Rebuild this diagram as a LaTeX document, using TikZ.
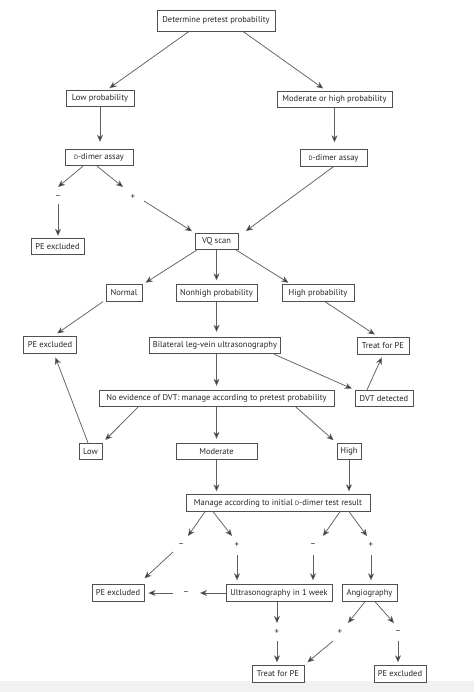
\documentclass[tikz,border=0pt]{standalone}
\usepackage{fontspec}
\setmainfont{PT Sans}
\usetikzlibrary{arrows.meta}
\definecolor{txt}{HTML}{262626}
\definecolor{edge}{HTML}{505050}
\definecolor{ln}{HTML}{606060}
\definecolor{strip}{HTML}{F1F1F1}
\newcommand{\dsc}{{\fontsize{6.2pt}{6pt}\selectfont D}}
\tikzset{
  box/.style={draw=edge, line width=0.85pt, fill=white, text=txt, inner sep=0pt,
    minimum height=16.5pt, font=\fontsize{8.5pt}{9pt}\selectfont},
  sign/.style={text=txt, inner sep=0pt, font=\fontsize{9pt}{9pt}\selectfont},
  arr/.style={draw=ln, line width=0.75pt, -{Stealth[length=7pt,width=6pt,inset=2pt,fill=txt]}},
}
\begin{document}
\begin{tikzpicture}[x=1pt,y=-1pt]
\useasboundingbox (0,0) rectangle (474,692);
\fill[strip] (0,681) rectangle (474,692);
% boxes
\node[box, minimum width=118pt, minimum height=21pt] (top) at (216,20.5) {Determine pretest probability};
\node[box, minimum width=68pt] (low) at (100,98.5) {Low probability};
\node[box, minimum width=115pt] (mod) at (334.5,99.5) {Moderate or high probability};
\node[box, minimum width=68pt] (dd1) at (99,157.5) {\dsc-dimer assay};
\node[box, minimum width=67pt] (dd2) at (333.5,158) {\dsc-dimer assay};
\node[box, minimum width=53pt] (pe1) at (57.5,246.5) {PE excluded};
\node[box, minimum width=43pt] (vq) at (216.5,241.5) {VQ scan};
\node[box, minimum width=36pt] (normal) at (124,293) {Normal};
\node[box, minimum width=81pt] (nonhigh) at (216.5,293) {Nonhigh probability};
\node[box, minimum width=72pt] (highp) at (318,293) {High probability};
\node[box, minimum width=53pt] (pe2) at (50,345) {PE excluded};
\node[box, minimum width=131pt] (bil) at (215,345.5) {Bilateral leg-vein ultrasonography};
\node[box, minimum width=52pt] (treat1) at (383,346) {Treat for PE};
\node[box, minimum width=58pt] (dvt) at (384,398.5) {DVT detected};
\node[box, minimum width=235pt] (noev) at (216.5,398.5) {No evidence of DVT: manage according to pretest probability};
\node[box, minimum width=23pt] (lowb) at (90.5,451.5) {Low};
\node[box, minimum width=81pt] (moder) at (216.5,451.5) {Moderate};
\node[box, minimum width=24pt] (high) at (349,451.5) {High};
\node[box, minimum width=184pt] (manage) at (278,503) {Manage according to initial \dsc-dimer test result};
\node[box, minimum width=52pt] (pe3) at (118,593) {PE excluded};
\node[box, minimum width=106pt] (ultra) at (279,593) {Ultrasonography in 1 week};
\node[box, minimum width=55pt] (angio) at (369.5,593) {Angiography};
\node[box, minimum width=52pt] (treat2) at (278,674) {Treat for PE};
\node[box, minimum width=52pt] (pe4) at (400,674) {PE excluded};
% signs
\node[sign] (m1) at (58,197) {\textendash};
\node[sign] (p1) at (133,197) {+};
\node[sign] (m2) at (181,545) {\textendash};
\node[sign] (p2) at (237,545) {+};
\node[sign] (m3) at (313,545) {\textendash};
\node[sign] (p3) at (371,545) {+};
\node[sign] (m4) at (186,593) {\textendash};
\node[sign] (p4) at (277,632) {+};
\node[sign] (p5) at (340,632) {+};
\node[sign] (m5) at (398,632) {\textendash};
% connectors
\draw[arr, shorten >=3pt] ([xshift=-27pt]top.south) -- ([xshift=7pt]low.north);
\draw[arr, shorten >=4pt] ([xshift=27pt]top.south) -- ([xshift=-8pt]mod.north);
\draw[arr, shorten >=7pt] (low.south) -- (low.south |- dd1.north);
\draw[arr, shorten >=7pt] (mod.south) -- (mod.south |- dd2.north);
\draw[arr] ([xshift=-16pt]dd1.south) -- ([yshift=10pt]m1.center);
\draw[arr] ([xshift=-2pt]dd1.south) -- ([xshift=-10pt,yshift=10pt]p1.center);
\draw[arr, shorten >=2pt] ([yshift=-7pt]m1.center) -- (m1.center |- pe1.north);
\draw[arr, shorten >=3pt] ([xshift=11pt,yshift=-4pt]p1.center) -- (vq.north west);
\draw[arr, shorten >=3pt] (dd2.south) -- ([xshift=5pt]vq.north east);
\draw[arr, shorten >=3pt] ([xshift=2pt]vq.south west) -- ([xshift=19pt]normal.north);
\draw[arr, shorten >=4pt] (vq.south) -- (vq.south |- nonhigh.north);
\draw[arr, shorten >=3pt] ([xshift=-2pt]vq.south east) -- ([xshift=-27pt]highp.north);
\draw[arr, shorten >=5pt] ([xshift=-21pt]normal.south) -- ([xshift=3pt]pe2.north);
\draw[arr, shorten >=5pt] (nonhigh.south) -- (nonhigh.south |- bil.north);
\draw[arr, shorten >=5pt] ([xshift=7pt]highp.south) -- ([xshift=-4pt]treat1.north);
\draw[arr, shorten >=4pt] (nonhigh.south |- bil.south) -- (nonhigh.south |- noev.north);
\draw[arr, shorten >=3pt] ([xshift=-7pt]bil.south east) -- (dvt.north west);
\draw[arr, shorten >=3pt] ([xshift=-17pt]dvt.north) -- (treat1.south);
\draw[arr, shorten >=4pt] ([xshift=-78.5pt]noev.south) -- (lowb.north east);
\draw[arr, shorten >=4pt] (noev.south) -- (noev.south |- moder.north);
\draw[arr, shorten >=4pt] ([xshift=79.5pt]noev.south) -- (high.north west);
\draw[arr, shorten >=4pt] ([xshift=-2.5pt]lowb.north) -- ([xshift=4pt]pe2.south);
\draw[arr, shorten >=3pt] (moder.south) -- (moder.south |- manage.north);
\draw[arr, shorten >=3pt] (high.south) -- (high.south |- manage.north);
\draw[arr] ([xshift=-73pt]manage.south) -- ([xshift=7pt,yshift=9pt]m2.center);
\draw[arr] ([xshift=-65pt]manage.south) -- ([xshift=-5pt,yshift=9pt]p2.center);
\draw[arr] ([xshift=62pt]manage.south) -- ([xshift=10pt,yshift=9pt]m3.center);
\draw[arr] ([xshift=71pt]manage.south) -- ([xshift=-4pt,yshift=9pt]p3.center);
\draw[arr] ([xshift=-8pt,yshift=-7pt]m2.center) -- ([yshift=6pt]pe3.north east);
\draw[arr, shorten >=4pt] ([yshift=-10pt]p2.center) -- (p2.center |- ultra.north);
\draw[arr, shorten >=4pt] ([yshift=-10pt]m3.center) -- (m3.center |- ultra.north);
\draw[arr, shorten >=4pt] ([yshift=-10pt]p3.center) -- (p3.center |- angio.north);
\draw[arr] (ultra.west) -- ([xshift=14pt]m4.center);
\draw[arr, shorten >=4pt] ([xshift=-13pt]m4.center) -- (pe3.east);
\draw[arr] (p4.center |- ultra.south) -- ([yshift=9pt]p4.center);
\draw[arr, shorten >=3pt] ([yshift=-9pt]p4.center) -- (p4.center |- treat2.north);
\draw[arr] ([xshift=-4.5pt]angio.south) -- ([xshift=8pt,yshift=9pt]p5.center);
\draw[arr] ([xshift=5.5pt]angio.south) -- ([xshift=-4pt,yshift=9pt]m5.center);
\draw[arr] ([xshift=-7pt,yshift=-9pt]p5.center) -- ([xshift=3pt,yshift=3pt]treat2.north east);
\draw[arr, shorten >=3pt] ([yshift=-9pt]m5.center) -- (m5.center |- pe4.north);
\end{tikzpicture}
\end{document}
